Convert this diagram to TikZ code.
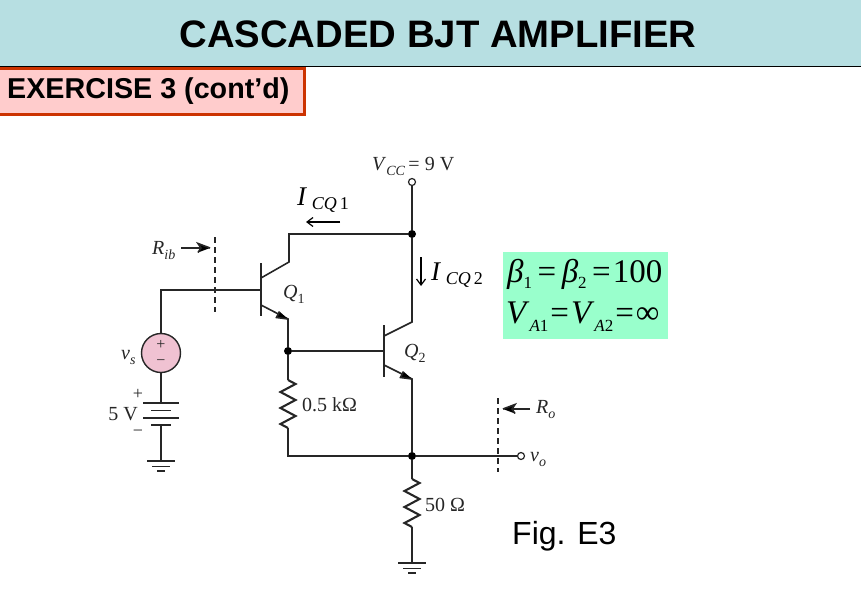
\documentclass[tikz,border=0pt]{standalone}
\usepackage{fontspec}
\setmainfont{Liberation Serif}
\newfontfamily\sansfont{Liberation Sans}
\usetikzlibrary{decorations.pathmorphing}
\definecolor{headbg}{HTML}{B7DFE2}
\definecolor{tagbg}{HTML}{FFCCCC}
\definecolor{tagline}{HTML}{CC3300}
\definecolor{notebg}{HTML}{99FFCC}
\definecolor{srcbg}{HTML}{F0C2D2}
\definecolor{wire}{HTML}{262626}
\newcommand{\fsize}[1]{\fontsize{#1}{#1}\selectfont}
\newcommand{\lsub}[2]{\textit{#1}\raisebox{-0.28em}{\fsize{14}\textit{#2}}}
\tikzset{
  wire/.style={draw=wire,line width=1.6pt},
  bar/.style={draw=wire,line width=2.6pt},
  look/.style={draw=wire,line width=1.1pt,dash pattern=on 6pt off 4pt},
  res/.style={wire,line width=2.1pt,decorate,decoration={zigzag,amplitude=7.5pt,segment length=16pt}},
  dot/.style={circle,fill=black,inner sep=0pt,minimum size=8pt},
  term/.style={circle,draw=wire,fill=white,line width=1.2pt,inner sep=0pt,minimum size=7pt},
  lab/.style={text=wire,inner sep=0pt,font=\fsize{20}},
  sign/.style={text=wire,inner sep=0pt,font=\fsize{18}},
  srcsign/.style={text=wire,inner sep=0pt,font=\fsize{16}},
}
\begin{document}
\begin{tikzpicture}[x=1pt,y=-1pt]
\useasboundingbox (0,0) rectangle (861,607);
% header
\fill [headbg] (0,0) rectangle (861,66);
\draw [black,line width=1pt] (0,66.5) -- (861,66.5);
\node (title) [inner sep=0pt] at (438,34) {\sansfont\bfseries\fsize{38.3}CASCADED BJT AMPLIFIER};
\fill [tagbg] (0,69) rectangle (304,115);
\draw [tagline,line width=3pt] (-3,69) -- (304,69) -- (304,115) -- (-3,115);
\node (tag) [anchor=base west,inner sep=0pt] at (7,99) {\sansfont\bfseries\fsize{28.7}EXERCISE 3 (cont’d)};
% data box
\fill [notebg] (503,252) rectangle (668,339);
\node (beta) [anchor=base west,inner sep=0pt] at (507,282) {\fsize{33}\textit{β}\raisebox{-0.2em}{\fsize{17}1}\,=\,\textit{β}\raisebox{-0.2em}{\fsize{17}2}\,=\kern2pt100};
\node (va) [anchor=base west,inner sep=0pt] at (506,323) {\fsize{33}\textit{V}\raisebox{-0.25em}{\fsize{17}\textit{A}1}\kern2pt=\kern2pt\textit{V}\raisebox{-0.25em}{\fsize{17}\textit{A}2}\kern2pt=\kern2pt∞};
% connection points
\node (vcc) [term] at (412,182) {};
\node (top) [dot] at (412,234) {};
\node (mid) [dot] at (288,351) {};
\node (out) [dot] at (412,456) {};
\node (vo) [term] at (521,456) {};
\node (src) [circle,draw=wire,fill=srcbg,line width=1.4pt,inner sep=0pt,minimum size=39pt] at (161,353) {};
\coordinate (q1b) at (261,290);
\coordinate (q1btop) at (261,263);
\coordinate (q1bbot) at (261,316);
\coordinate (q1c) at (261,278);
\coordinate (q1cend) at (289,262);
\coordinate (q1ctop) at (289,234);
\coordinate (q1e) at (261,305);
\coordinate (q1eend) at (288,319);
\coordinate (q2b) at (384,351);
\coordinate (q2btop) at (384,325);
\coordinate (q2bbot) at (384,377);
\coordinate (q2c) at (384,336);
\coordinate (q2cend) at (412,322);
\coordinate (q2e) at (384,365);
\coordinate (q2eend) at (412,379);
\coordinate (corner) at (161,290);
\coordinate (r1a) at (288,380);
\coordinate (r1b) at (288,428);
\coordinate (r1c) at (288,456);
\coordinate (r2a) at (412,479);
\coordinate (r2b) at (412,527);
\coordinate (gnd2) at (412,563);
\coordinate (bat1) at (161,403);
\coordinate (bat4) at (161,425);
\coordinate (gnd1) at (161,461);
% wires
\draw [wire] (vcc) -- (top);
\draw [wire] (top) -- (q1ctop) -- (q1cend) -- (q1c);
\draw [wire] (top) -- (q2cend) -- (q2c);
\draw [wire] (src) -- (corner) -- (q1b);
\draw [bar] (q1btop) -- (q1bbot);
\draw [bar] (q2btop) -- (q2bbot);
\draw [wire] (q1e) -- (q1eend) -- (mid);
\draw [wire] (mid) -- (q2b);
\draw [wire] (q2e) -- (q2eend) -- (out);
\draw [wire] (mid) -- (r1a);
\draw [res] (r1a) -- (r1b);
\draw [wire] (r1b) -- (r1c) -- (out);
\draw [wire] (out) -- (vo);
\draw [wire] (out) -- (r2a);
\draw [res] (r2a) -- (r2b);
\draw [wire] (r2b) -- (gnd2);
\draw [wire] (src) -- (bat1);
\draw [wire] (bat4) -- (gnd1);
% emitter heads
\fill [wire] (288,319) -- (276.5,317.5) -- (279.5,311.5);
\fill [wire] (412,379) -- (400.5,377.5) -- (403.5,371.5);
% battery and grounds
\draw [wire] (143,403) -- (179,403);
\draw [wire] (151,410.5) -- (171,410.5);
\draw [wire] (143,418) -- (179,418);
\draw [wire] (151,425) -- (171,425);
\draw [wire] (147,461) -- (175,461);
\draw [wire] (152,466.5) -- (170,466.5);
\draw [wire] (157,471) -- (165,471);
\draw [wire] (398,563) -- (426,563);
\draw [wire] (403,568.5) -- (421,568.5);
\draw [wire] (408,573) -- (416,573);
% look-in marks
\draw [look] (215,237) -- (215,312);
\draw [look] (498,398) -- (498,472);
\draw [wire,line width=1.2pt] (181,248) -- (205,248);
\fill [wire] (210,248) -- (198,243.5) -- (201,248) -- (198,252.5);
\draw [wire,line width=1.2pt] (530,409) -- (509,409);
\fill [wire] (503,409) -- (515,404.5) -- (512,409) -- (515,413.5);
% current arrows
\draw [black,line width=1.2pt] (340,222) -- (307,222);
\draw [black,line width=1.2pt] (313,217.5) -- (307,222) -- (313,226.5);
\draw [black,line width=1.2pt] (421,257) -- (421,285);
\draw [black,line width=1.2pt] (416.5,279) -- (421,285) -- (425.5,279);
% labels
\node (vcclab) [lab,anchor=base west] at (372,170) {\lsub{V}{CC}\,= 9 V};
\node (icq1) [anchor=base west,inner sep=0pt] at (297,205) {\fsize{27}\textit{I}\,\raisebox{-0.15em}{\fsize{18}\textit{CQ}\,1}};
\node (icq2) [anchor=base west,inner sep=0pt] at (431,280) {\fsize{27}\textit{I}\,\raisebox{-0.15em}{\fsize{18}\textit{CQ}\,2}};
\node (riblab) [lab,anchor=base west] at (152,254) {\lsub{R}{ib}};
\node (rolab) [lab,anchor=base west] at (536,413) {\lsub{R}{o}};
\node (vslab) [lab,anchor=base west] at (121,359) {\lsub{v}{s}};
\node (volab) [lab,anchor=base west] at (530,461) {\lsub{v}{o}};
\node (q1lab) [lab,anchor=base west] at (283,298) {\textit{Q}\raisebox{-0.25em}{\fsize{14}1}};
\node (q2lab) [lab,anchor=base west] at (404,357) {\textit{Q}\raisebox{-0.25em}{\fsize{14}2}};
\node (plus) [srcsign] at (161,345) {+};
\node (minus) [srcsign] at (161,363) {−};
\node (batp) [sign] at (138,394) {+};
\node (batm) [sign] at (138,433) {−};
\node (batlab) [lab,anchor=base east] at (138,420) {5 V};
\node (r1lab) [lab,anchor=base west] at (302,411) {0.5 kΩ};
\node (r2lab) [lab,anchor=base west] at (425,511) {50 Ω};
\node (fig) [anchor=base west,inner sep=0pt] at (512,544) {\sansfont\fsize{32}Fig. E3};
\end{tikzpicture}
\end{document}
